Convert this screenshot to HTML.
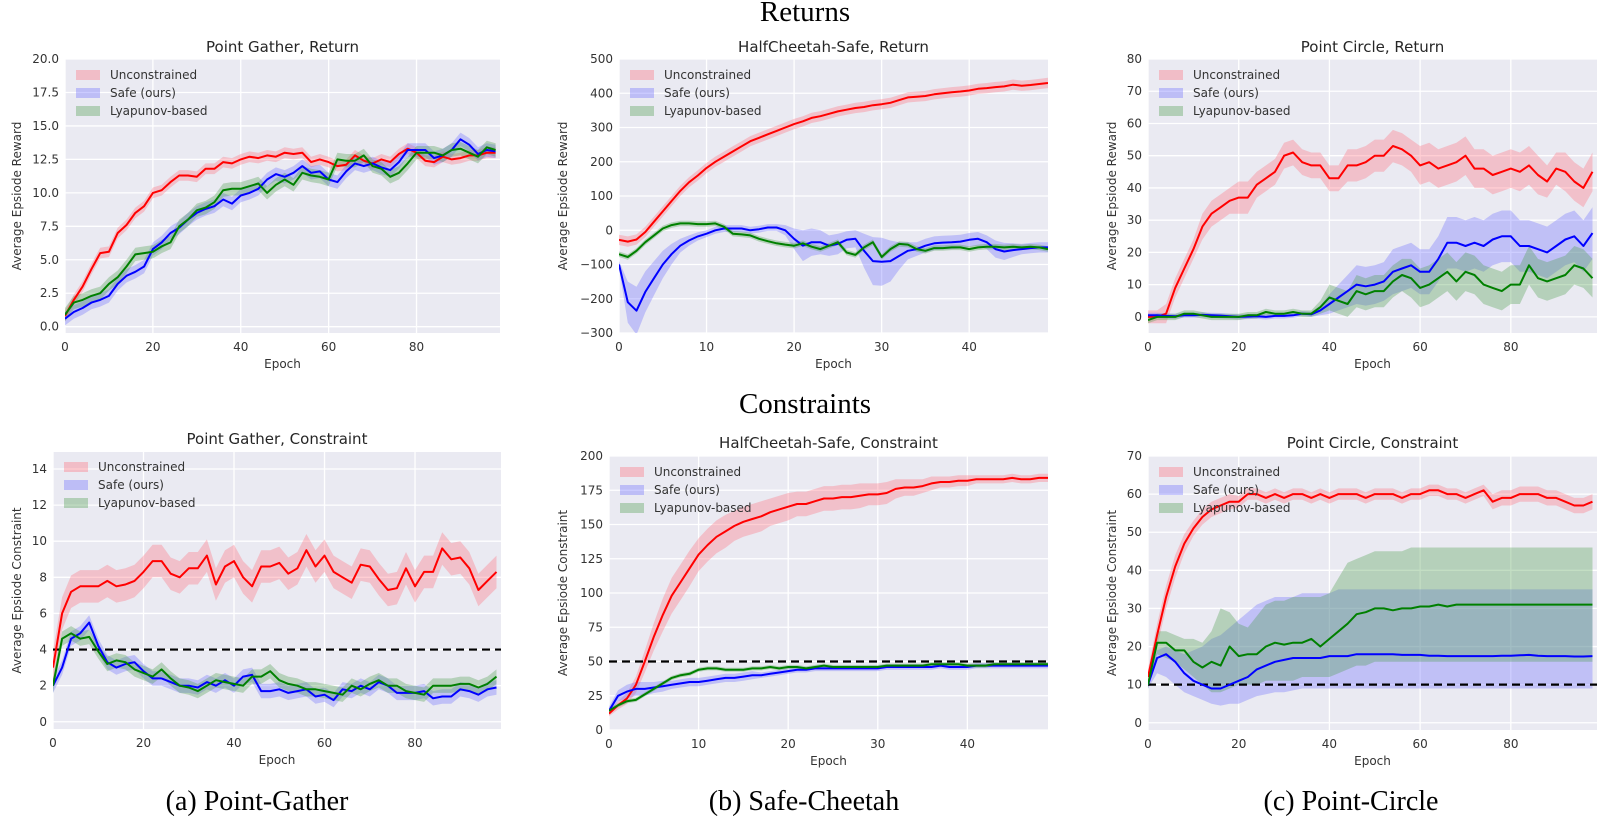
<!DOCTYPE html>
<html><head><meta charset="utf-8">
<style>
body{margin:0;background:#fff;}
svg{display:block;font-family:"DejaVu Sans","Liberation Sans",sans-serif;}
.serif{font-family:"Liberation Serif",serif;}
</style></head>
<body>
<svg id="fig" width="1610" height="816" viewBox="0 0 1610 816" xmlns="http://www.w3.org/2000/svg">
<text class="serif" x="805" y="21" font-size="29" text-anchor="middle" fill="#000">Returns</text>
<text class="serif" x="805" y="413" font-size="29" text-anchor="middle" fill="#000">Constraints</text>
<text class="serif" x="257" y="810" font-size="28" text-anchor="middle" fill="#000">(a) Point-Gather</text>
<text class="serif" x="804" y="810" font-size="28" text-anchor="middle" fill="#000">(b) Safe-Cheetah</text>
<text class="serif" x="1351" y="810" font-size="28" text-anchor="middle" fill="#000">(c) Point-Circle</text>
</svg>
<script>
// ---- data ----
const ep100 = [0,2,4,6,8,10,12,14,16,18,20,22,24,26,28,30,32,34,36,38,40,42,44,46,48,50,52,54,56,58,60,62,64,66,68,70,72,74,76,78,80,82,84,86,88,90,92,94,96,98];
const ep50 = [0,1,2,3,4,5,6,7,8,9,10,11,12,13,14,15,16,17,18,19,20,21,22,23,24,25,26,27,28,29,30,31,32,33,34,35,36,37,38,39,40,41,42,43,44,45,46,47,48,49];
const ticks100 = [0,20,40,60,80];
const ticks50 = [0,10,20,30,40];

// Point Gather, Return
const pgRetRed = [0.8,2.0,3.0,4.3,5.5,5.6,7.0,7.6,8.5,9.0,10.0,10.2,10.8,11.3,11.3,11.2,11.8,11.8,12.3,12.2,12.5,12.7,12.6,12.8,12.7,13.0,12.9,13.0,12.3,12.5,12.3,12.0,12.1,12.8,12.4,12.2,12.5,12.3,12.9,13.3,13.0,12.4,12.3,12.7,12.5,12.6,12.8,12.8,13.0,13.0];
const pgRetBlue = [0.6,1.1,1.4,1.8,2.0,2.3,3.2,3.8,4.1,4.5,5.8,6.3,7.0,7.4,8.0,8.5,8.8,9.0,9.5,9.2,9.8,10.0,10.3,11.0,11.4,11.2,11.5,12.0,11.5,11.6,11.0,10.8,11.6,12.2,12.0,12.2,11.9,11.7,12.3,13.2,13.2,13.2,12.6,12.8,13.2,14.0,13.6,12.9,13.2,13.1];
const pgRetGreen = [0.9,1.8,2.0,2.3,2.5,3.2,3.7,4.5,5.4,5.5,5.6,6.0,6.3,7.5,8.0,8.7,8.9,9.3,10.2,10.3,10.3,10.5,10.7,10.0,10.6,11.0,10.6,11.5,11.3,11.2,11.0,12.5,12.4,12.4,12.8,12.0,11.8,11.2,11.5,12.2,13.0,13.0,13.0,12.8,13.2,13.3,13.0,12.7,13.4,13.2];
const pgRetTicks = [0,2.5,5,7.5,10,12.5,15,17.5,20];

// HalfCheetah, Return
const hcRetRed = [-28,-33,-27,-5,25,55,85,115,140,160,182,200,215,230,245,260,270,280,290,300,310,318,328,333,340,347,352,357,360,365,368,372,380,388,390,392,397,400,403,405,408,413,415,418,420,425,422,424,427,430];
const hcRetBlue = [-100,-210,-235,-180,-140,-100,-70,-45,-30,-18,-10,0,5,5,5,0,3,8,8,0,-25,-45,-35,-35,-45,-40,-28,-25,-60,-90,-92,-90,-75,-60,-55,-45,-38,-36,-35,-33,-28,-25,-35,-55,-62,-58,-55,-52,-50,-50];
const hcRetBlueSpread = [10,60,70,60,50,40,30,20,15,12,10,10,10,10,10,10,10,10,10,15,30,45,40,35,30,30,25,25,50,70,70,60,40,25,20,20,20,20,20,20,20,20,20,25,25,20,15,15,15,15];
const hcRetGreen = [-70,-78,-60,-35,-15,5,15,20,20,18,18,20,10,-10,-12,-15,-25,-32,-38,-42,-45,-38,-48,-55,-45,-35,-65,-72,-50,-35,-78,-55,-40,-42,-55,-60,-52,-52,-50,-50,-55,-50,-48,-48,-50,-48,-50,-48,-50,-55];
const hcRetTicks = [-300,-200,-100,0,100,200,300,400,500];

// Point Circle, Return
const pcRetRed = [0,0,1,9,15,21,28,32,34,36,37,37,41,43,45,50,51,48,47,47,43,43,47,47,48,50,50,53,52,50,47,48,46,47,48,50,46,46,44,45,46,45,47,44,42,46,45,42,40,45];
const pcRetRedSpread = [2,2,3,3,3,3,4,4,4,4,5,5,4,4,4,4,4,4,4,4,4,4,5,5,5,5,5,5,5,5,6,6,6,6,6,6,6,6,6,6,6,6,6,6,5,5,6,6,6,6];
const pcRetBlue = [0.5,0.5,0.3,0.2,0.5,0.5,0.6,0.5,0.4,0.2,0,0.1,0.2,0,0.3,0.3,0.5,1,0.8,2,4,6,8,10,9.5,10,11,14,15,16,14,14,18,23,23,22,23,22,24,25,25,22,22,21,20,22,24,25,22,26];
const pcRetBlueSpread = [0.8,0.8,0.8,0.8,0.8,0.8,0.8,0.8,0.8,0.8,0.8,0.8,0.8,0.8,0.8,0.8,0.8,0.8,0.8,1.5,3,4,5,6,6,6,6,7,7,7,7,7,7,8,8,8,8,8,8,8,8,8,8,8,8,8,8,8,8,8];
const pcRetGreen = [-1,0,0,0,1,1,0.5,0,0,0,0,0.5,0.5,1.5,1,1,1.5,1,1,3,6,5,4,8,7,8,8,11,13,12,9,10,12,14,11,14,13,10,9,8,10,10,16,12,11,12,13,16,15,12];
const pcRetGreenSpread = [1,1,1,1,1,1,1,1,1,1,1,1,1,1,1,1,1,1,1,2,4,4,4,5,5,5,5,5,5,6,6,6,6,6,6,6,6,6,6,6,6,6,6,6,6,6,6,6,6,6];
const pcRetTicks = [0,10,20,30,40,50,60,70,80];

// Point Gather, Constraint
const pgConRed = [3,6,7.2,7.5,7.5,7.5,7.8,7.5,7.6,7.8,8.3,8.9,8.9,8.2,8.0,8.5,8.5,9.2,7.6,8.6,8.9,8.0,7.5,8.6,8.6,8.8,8.2,8.5,9.5,8.6,9.2,8.3,8.0,7.7,8.7,8.6,7.9,7.3,7.4,8.5,7.5,8.3,8.3,9.6,9.0,9.1,8.5,7.3,7.8,8.3];
const pgConBlue = [2,3,4.6,4.9,5.5,4.2,3.3,3.0,3.2,3.3,2.8,2.4,2.4,2.2,2.0,2.0,1.9,2.2,2.0,2.3,2.0,2.5,2.6,1.7,1.7,1.8,1.6,1.7,1.8,1.4,1.5,1.2,1.8,1.7,2.0,1.8,2.2,2.0,1.6,1.6,1.6,1.7,1.3,1.4,1.4,1.8,1.7,1.5,1.8,1.9];
const pgConGreen = [2,4.6,4.9,4.6,4.7,3.9,3.2,3.4,3.3,2.9,2.7,2.5,2.9,2.4,2.0,1.9,1.7,2.0,2.3,2.2,2.1,2.0,2.5,2.5,2.8,2.3,2.1,2.0,1.8,1.8,1.7,1.6,1.5,2.0,1.8,2.1,2.3,2.0,2.0,1.7,1.6,1.5,2.0,2.0,2.0,2.1,2.1,1.9,2.1,2.5];
const pgConTicks = [0,2,4,6,8,10,12,14];
const pgLimit = 4;

// HalfCheetah, Constraint
const hcConRed = [12,18,23,33,50,68,84,98,108,118,128,135,141,145,149,152,154,156,159,161,163,165,165,167,169,169,170,170,171,172,172,173,176,177,177,178,180,181,181,182,182,183,183,183,183,184,183,183,184,184];
const hcConRedSpread = [2,3,4,6,8,10,12,13,13,13,12,12,12,12,11,11,11,11,10,10,10,9,9,9,9,9,9,9,9,8,8,8,7,6,6,5,5,4,4,4,4,3,3,3,3,3,3,3,3,3];
const hcConBlue = [14,25,28,30,30,31,32,33,34,35,35,36,37,38,38,39,40,40,41,42,43,44,44,45,45,45,45,45,45,45,45,46,46,46,46,46,46,47,46,46,46,47,47,47,47,47,47,47,47,47];
const hcConBlueSpread = [3,4,5,5,5,4,4,3,3,3,3,3,3,3,3,3,3,2,2,2,2,2,2,2,2,2,2,2,2,2,2,2,2,2,2,2,2,2,2,2,2,2,2,2,2,2,2,2,2,2];
const hcConGreen = [14,18,21,22,26,30,34,38,40,41,44,45,45,44,44,44,45,45,46,45,46,46,45,46,47,46,46,46,46,46,46,47,47,47,47,47,48,48,48,48,47,47,47,48,48,48,48,48,48,48];
const hcConTicks = [0,25,50,75,100,125,150,175,200];
const hcLimit = 50;

// Point Circle, Constraint
const pcConRed = [12,23,33,41,47,51,54,56,57,58,58,60,60,59,60,59,60,60,59,60,59,60,60,60,59,60,60,60,59,60,60,61,61,60,60,59,60,61,58,59,59,60,60,60,59,59,58,57,57,58];
const pcConRedSpread = [2,3,3,3,2.5,2,2,2,2,2,1.5,1.5,1.5,1.5,1.5,1.5,1.5,1.5,1.5,1.5,1.5,1.5,1.5,1.5,1.5,1.5,1.5,1.5,1.5,1.5,1.5,1.5,1.5,1.5,1.5,1.5,1.5,1.5,2,2,2,2,2,2,2,2,2,2,2,2];
const pcConBlue = [10,17,18,16,13,11,10,9,9,10,11,12,14,15,16,16.5,17,17,17,17,17.5,17.5,17.5,18,18,18,18,18,17.8,17.8,17.8,17.6,17.6,17.5,17.5,17.5,17.5,17.5,17.5,17.6,17.6,17.7,17.8,17.6,17.5,17.5,17.5,17.4,17.4,17.5];
const pcConBlueLo = [9,13,12,10,8,7,6,5,4.5,5,5,6,7,7.5,8,8,8.5,9,9,9,9,9,9,9,9,9,9,9,9,9,9,9,9,9,9,9,9,9,9,9,9,9,9,9,9,9,9,9,9,9];
const pcConBlueHi = [11,19,20,19,18,19,20,22,23,25,27,29,31,32,33,33,33,34,34,34,34,35,35,35,35,35,35,35,35,35,35,35,35,35,35,35,35,35,35,35,35,35,35,35,35,35,35,35,35,35];
const pcConGreen = [10,21,21,19,19,16,14.5,16,15,20,17.5,18,18,20,21,20.5,21,21,22,20,22,24,26,28.5,29,30,30,29.5,30,30,30.5,30.5,31,30.5,31,31,31,31,31,31,31,31,31,31,31,31,31,31,31,31];
const pcConGreenLo = [9,18,17,16,14,12,10,8,8,9,10,10,10,11,11,11,11,12,12,12,12,13,14,15,15,16,16,16,16,16,16,16,16,16,16,16,16,16,16,16,16,16,16,16,16,16,16,16,16,16];
const pcConGreenHi = [11,24,24,23,22,22,21,24,30,29,26,25,28,31,32,32,33,33,33,33,34,38,42,43,44,45,45,45,45,46,46,46,46,46,46,46,46,46,46,46,46,46,46,46,46,46,46,46,46,46];
const pcConTicks = [0,10,20,30,40,50,60,70];
const pcLimit = 10;

// ---- drawing ----
const NS = 'http://www.w3.org/2000/svg';
const svg = document.getElementById('fig');
const COL = {red:'#ff0000', blue:'#0000ff', green:'#008000'};
const FILL = {red:'#ff6b78', blue:'#6a6aff', green:'#4a9a4a'};
const LEG = ['Unconstrained','Safe (ours)','Lyapunov-based'];
const KEYS = ['red','blue','green'];
function mk(tag, attrs, parent){
  const e = document.createElementNS(NS, tag);
  for (const k in attrs) e.setAttribute(k, attrs[k]);
  (parent||svg).appendChild(e);
  return e;
}
let clipId = 0;
function panel(cfg){
  const g = mk('g', {});
  
  
  const {x0,x1,y0,y1} = cfg.box;
  const sx = v => x0 + (v - cfg.xmin) / (cfg.xmax - cfg.xmin) * (x1 - x0);
  const sy = v => y1 - (v - cfg.ymin) / (cfg.ymax - cfg.ymin) * (y1 - y0);
  const bg = mk('rect', {x:x0, y:y0, width:x1-x0, height:y1-y0, fill:'#eaeaf2'}, g);
  
  
  const cid = 'clip' + (clipId++);
  const cp = mk('clipPath', {id:cid}, g);
  mk('rect', {x:x0, y:y0, width:x1-x0, height:y1-y0}, cp);
  cfg.xticks.forEach(t => {
    const gl = mk('line', {x1:sx(t), x2:sx(t), y1:y0, y2:y1, stroke:'#fff', 'stroke-width':1.3}, g);
    
    
    const tl = mk('text', {x:sx(t), y:y1+18, 'font-size':12, fill:'#333', 'text-anchor':'middle'}, g);
    tl.textContent = t;
    
    
  });
  cfg.yticks.forEach(t => {
    const gl = mk('line', {x1:x0, x2:x1, y1:sy(t), y2:sy(t), stroke:'#fff', 'stroke-width':1.3}, g);
    
    
    const tl = mk('text', {x:x0-6, y:sy(t)+4, 'font-size':12, fill:'#333', 'text-anchor':'end'}, g);
    tl.textContent = (cfg.yfmt ? cfg.yfmt(t) : String(t)).replace('-', '\u2212');
    
    
  });
  const plot = mk('g', {'clip-path':'url(#'+cid+')'}, g);
  cfg.series.forEach((s, i) => {
    const lo = s.lo || s.y.map((v, j) => v - (Array.isArray(s.sp) ? s.sp[j] : s.sp));
    const hi = s.hi || s.y.map((v, j) => v + (Array.isArray(s.sp) ? s.sp[j] : s.sp));
    let d = '';
    cfg.x.forEach((xv, j) => { d += (j ? 'L' : 'M') + sx(xv).toFixed(1) + ',' + sy(hi[j]).toFixed(1); });
    for (let j = cfg.x.length - 1; j >= 0; j--) d += 'L' + sx(cfg.x[j]).toFixed(1) + ',' + sy(lo[j]).toFixed(1);
    const band = mk('path', {d:d+'Z', fill:FILL[s.c], 'fill-opacity':0.33, stroke:'none'}, plot);
    
    
  });
  if (cfg.limit !== undefined) {
    const dl = mk('line', {x1:x0, x2:x1, y1:sy(cfg.limit), y2:sy(cfg.limit), stroke:'#000', 'stroke-width':2.2, 'stroke-dasharray':'8,5'}, plot);
    
    
  }
  cfg.series.forEach(s => {
    const pts = cfg.x.map((xv, j) => sx(xv).toFixed(1) + ',' + sy(s.y[j]).toFixed(1)).join(' ');
    const ln = mk('polyline', {points:pts, fill:'none', stroke:COL[s.c], 'stroke-width':2, 'stroke-linejoin':'round'}, plot);
    
    
  });
  // legend
  KEYS.forEach((k, i) => {
    const ly = cfg.legY + i * 18;
    const p = mk('rect', {x:x0+11, y:ly-5, width:24, height:10, fill:FILL[k], 'fill-opacity':0.35}, g);
    
    
    const t = mk('text', {x:x0+45, y:ly+4, 'font-size':12, fill:'#333'}, g);
    t.textContent = LEG[i];
    
    
  });
  const tt = mk('text', {x:(x0+x1)/2, y:cfg.titleY, 'font-size':15, fill:'#262626', 'text-anchor':'middle'}, g);
  tt.textContent = cfg.title;
  
  
  const xl = mk('text', {x:(x0+x1)/2, y:y1+35, 'font-size':12, fill:'#333', 'text-anchor':'middle'}, g);
  xl.textContent = 'Epoch';
  
  
  const yl = mk('text', {x:0, y:0, 'font-size':12, fill:'#333', 'text-anchor':'middle', transform:'translate('+(cfg.ylabX)+','+((y0+y1)/2)+') rotate(-90)'}, g);
  yl.textContent = cfg.ylabel;
  
  
}

panel({name:'point-gather-return-chart', box:{x0:65,x1:500,y0:59,y1:333}, xmin:0, xmax:99, ymin:-0.47, ymax:20,
  x:ep100, xticks:ticks100, yticks:pgRetTicks, yfmt:t=>t.toFixed(1), title:'Point Gather, Return', titleY:52, legY:75, ylabX:21, ylabel:'Average Epsiode Reward',
  series:[{c:'red',y:pgRetRed,sp:0.4},{c:'blue',y:pgRetBlue,sp:0.5},{c:'green',y:pgRetGreen,sp:0.5}]});
panel({name:'halfcheetah-return-chart', box:{x0:619,x1:1048,y0:59,y1:333}, xmin:0, xmax:49, ymin:-300, ymax:500,
  x:ep50, xticks:ticks50, yticks:hcRetTicks, title:'HalfCheetah-Safe, Return', titleY:52, legY:75, ylabX:567, ylabel:'Average Epsiode Reward',
  series:[{c:'red',y:hcRetRed,sp:15},{c:'blue',y:hcRetBlue,sp:hcRetBlueSpread},{c:'green',y:hcRetGreen,sp:8}]});
panel({name:'point-circle-return-chart', box:{x0:1148,x1:1597,y0:59,y1:333}, xmin:0, xmax:99, ymin:-5, ymax:80,
  x:ep100, xticks:ticks100, yticks:pcRetTicks, title:'Point Circle, Return', titleY:52, legY:75, ylabX:1116, ylabel:'Average Epsiode Reward',
  series:[{c:'red',y:pcRetRed,sp:pcRetRedSpread},{c:'blue',y:pcRetBlue,sp:pcRetBlueSpread},{c:'green',y:pcRetGreen,sp:pcRetGreenSpread}]});
panel({name:'point-gather-constraint-chart', box:{x0:53,x1:501,y0:452,y1:729}, xmin:0, xmax:99, ymin:-0.4, ymax:14.94,
  x:ep100, xticks:ticks100, yticks:pgConTicks, limit:pgLimit, title:'Point Gather, Constraint', titleY:444, legY:467, ylabX:21, ylabel:'Average Epsiode Constraint',
  series:[{c:'red',y:pgConRed,sp:0.9},{c:'blue',y:pgConBlue,sp:0.4},{c:'green',y:pgConGreen,sp:0.4}]});
panel({name:'halfcheetah-constraint-chart', box:{x0:609,x1:1048,y0:456,y1:730}, xmin:0, xmax:49, ymin:0, ymax:200,
  x:ep50, xticks:ticks50, yticks:hcConTicks, limit:hcLimit, title:'HalfCheetah-Safe, Constraint', titleY:448, legY:472, ylabX:567, ylabel:'Average Epsiode Constraint',
  series:[{c:'red',y:hcConRed,sp:hcConRedSpread},{c:'blue',y:hcConBlue,sp:hcConBlueSpread},{c:'green',y:hcConGreen,sp:1.5}]});
panel({name:'point-circle-constraint-chart', box:{x0:1148,x1:1597,y0:456,y1:730}, xmin:0, xmax:99, ymin:-1.9, ymax:70,
  x:ep100, xticks:ticks100, yticks:pcConTicks, limit:pcLimit, title:'Point Circle, Constraint', titleY:448, legY:472, ylabX:1116, ylabel:'Average Epsiode Constraint',
  series:[{c:'red',y:pcConRed,sp:pcConRedSpread},{c:'blue',y:pcConBlue,lo:pcConBlueLo,hi:pcConBlueHi},{c:'green',y:pcConGreen,lo:pcConGreenLo,hi:pcConGreenHi}]});
</script>
</body></html>
